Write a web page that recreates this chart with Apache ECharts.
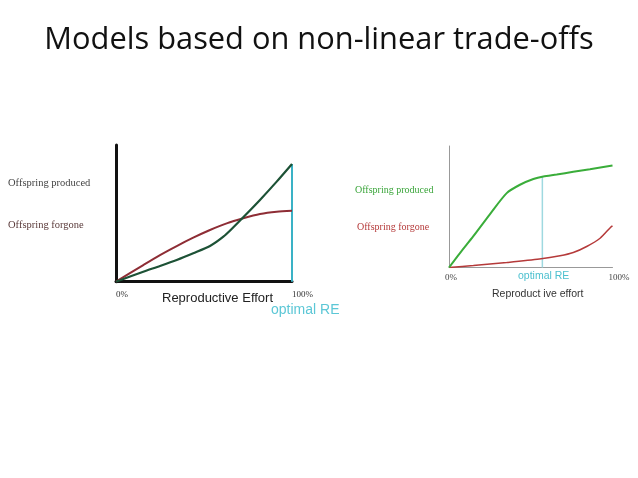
<!DOCTYPE html>
<html><head><meta charset="utf-8">
<script src="https://cdn.jsdelivr.net/npm/echarts@6/dist/echarts.min.js"></script>
<style>html,body{margin:0;padding:0;background:#fff}#c{width:638px;height:478px}</style>
</head><body><div id="c"></div>
<script>
// Left chart
const leftProduced = [[0,0],[15.5,7.3],[25,11.5],[34.5,15.9],[43.9,20.8],[53.4,26.1],[61,32.9],[66.7,39.8],[72.3,47.1],[81.8,59.8],[91.3,73.2],[100,86.1]];
const leftForgone = [[0,0],[15.5,12.2],[25,19.5],[34.5,26.1],[43.9,32.2],[53.4,37.8],[62.9,42.7],[72.3,46.4],[81.8,49.5],[91.3,51.2],[100,51.9]];
const leftOptimal = [[100,0],[100,86.1]];
// Right chart
const rightProduced = [[0,0],[6.7,11.9],[14.9,25.8],[25.1,44],[35.3,61.2],[43.4,68.1],[51.6,72.8],[57.7,74.9],[65.9,76.5],[76,78.8],[86.2,80.9],[100,84]];
const rightForgone = [[0,0],[14.9,1.6],[35.3,4.1],[55.3,6.9],[67.9,9.6],[76,12.3],[84.2,17.3],[92.4,24.1],[98.9,33.2],[100,34.3]];
const rightOptimal = [[57.1,0],[57.1,74.9]];
const xTicks = ['0%','100%'];

const chart = echarts.init(document.getElementById('c'));
const serif = '"Liberation Serif","DejaVu Serif",serif';
const sans = '"Liberation Sans","DejaVu Sans",sans-serif';
chart.setOption({
  animation:false,
  backgroundColor:'#fff',
  title:{text:'Models based on non-linear trade-offs',left:'center',top:20,
    textStyle:{fontFamily:'"Open Sans",sans-serif',fontWeight:'normal',fontSize:30.8,color:'#111'}},
  grid:[
    {left:116,top:145,width:176,height:136.7},
    {left:449,top:146,width:163.5,height:121.5}
  ],
  xAxis:[
    {gridIndex:0,type:'value',min:0,max:100,interval:100,splitLine:{show:false},
     axisLine:{lineStyle:{color:'#111',width:3}},axisTick:{show:false},
     axisLabel:{formatter:v=>v===0?xTicks[0]:xTicks[1],fontFamily:serif,fontSize:9,color:'#333',margin:8,align:'left'}},
    {gridIndex:1,type:'value',min:0,max:100,interval:100,splitLine:{show:false},
     axisLine:{lineStyle:{color:'#999',width:1}},axisTick:{show:false},
     axisLabel:{formatter:v=>v===0?xTicks[0]:xTicks[1],fontFamily:serif,fontSize:9,color:'#444',margin:6,
       align:'left',padding:[0,0,0,-4]}}
  ],
  yAxis:[
    {gridIndex:0,type:'value',min:0,max:100,show:true,splitLine:{show:false},axisLabel:{show:false},axisTick:{show:false},
     axisLine:{show:true,lineStyle:{color:'#111',width:3}}},
    {gridIndex:1,type:'value',min:0,max:100,show:true,splitLine:{show:false},axisLabel:{show:false},axisTick:{show:false},
     axisLine:{show:true,lineStyle:{color:'#999',width:1}}}
  ],
  series:[
    {type:'line',xAxisIndex:0,yAxisIndex:0,data:leftOptimal,showSymbol:false,lineStyle:{color:'#3ab2c6',width:2}},
    {type:'line',xAxisIndex:0,yAxisIndex:0,data:leftForgone,smooth:0.25,showSymbol:false,lineStyle:{color:'#8e2d35',width:2}},
    {type:'line',xAxisIndex:0,yAxisIndex:0,data:leftProduced,smooth:0.25,showSymbol:false,lineStyle:{color:'#1d5236',width:2.2}},
    {type:'line',xAxisIndex:1,yAxisIndex:1,data:rightOptimal,showSymbol:false,lineStyle:{color:'#9fd9e0',width:1.5}},
    {type:'line',xAxisIndex:1,yAxisIndex:1,data:rightForgone,smooth:0.25,showSymbol:false,lineStyle:{color:'#b53a3a',width:1.5}},
    {type:'line',xAxisIndex:1,yAxisIndex:1,data:rightProduced,smooth:0.25,showSymbol:false,lineStyle:{color:'#3aad3a',width:2}}
  ],
  graphic:[
    {type:'text',left:8,top:178,style:{text:'Offspring produced',font:'10.5px '+serif,fill:'#444'}},
    {type:'text',left:8,top:220,style:{text:'Offspring forgone',font:'10.5px '+serif,fill:'#5a3a3a'}},
    {type:'text',left:162,top:292,style:{text:'Reproductive Effort',font:'13px '+sans,fill:'#222'}},
    {type:'text',left:271,top:303,style:{text:'optimal RE',font:'14px '+sans,fill:'#5cc7d6'}},
    {type:'text',left:355,top:185,style:{text:'Offspring produced',font:'10px '+serif,fill:'#3aa53a'}},
    {type:'text',left:357,top:222,style:{text:'Offspring forgone',font:'10px '+serif,fill:'#b53a3a'}},
    {type:'text',left:518,top:271,style:{text:'optimal RE',font:'10.5px '+sans,fill:'#4cc0cf'}},
    {type:'text',left:492,top:289,style:{text:'Reproduct ive effort',font:'10.5px '+sans,fill:'#333'}}
  ]
});
</script></body></html>
